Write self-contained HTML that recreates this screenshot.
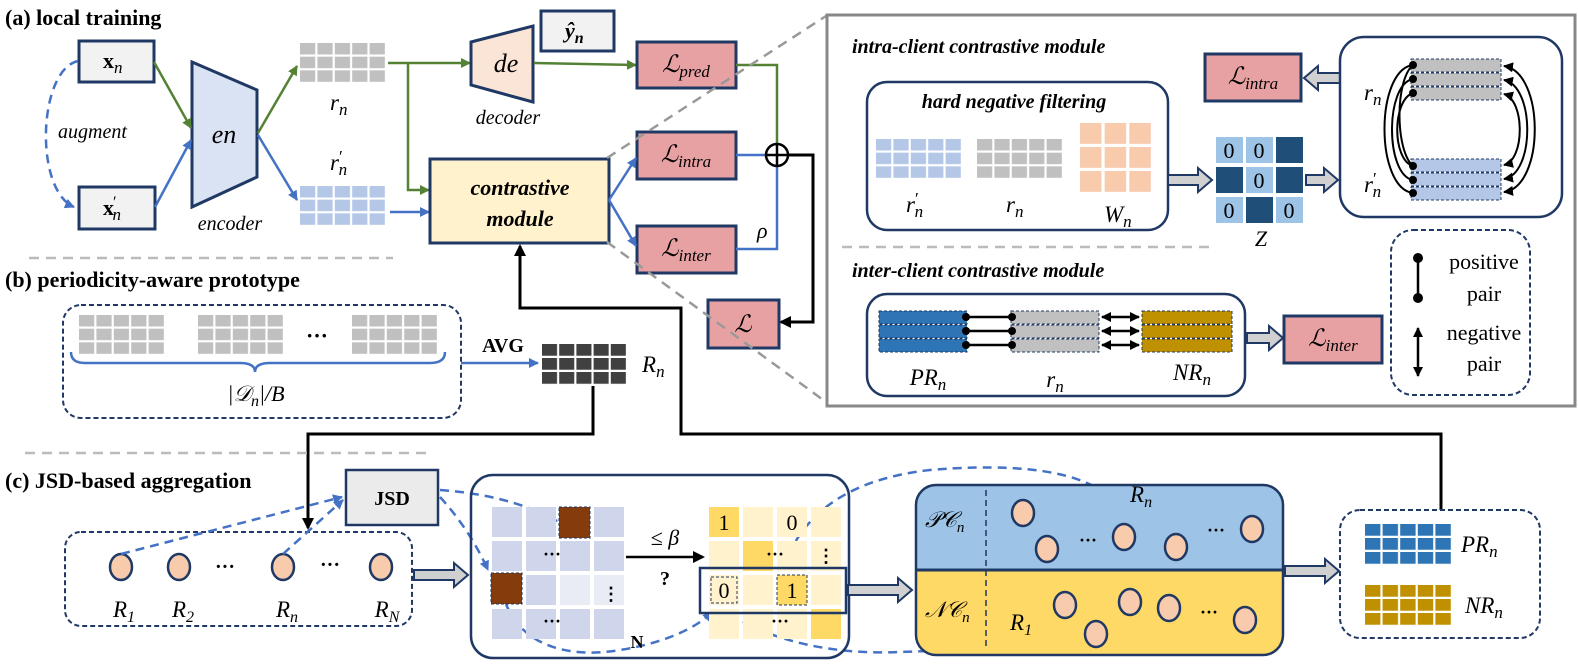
<!DOCTYPE html>
<html><head><meta charset="utf-8"><style>
html,body{margin:0;padding:0;background:#fff}
svg{display:block}
text{font-family:"Liberation Serif",serif}
.b{font-weight:bold}
.i{font-style:italic}
</style></head><body>
<svg width="1579" height="664" viewBox="0 0 1579 664" xmlns="http://www.w3.org/2000/svg">
<defs>
<pattern id="pg" patternUnits="objectBoundingBox" width="0.2" height="0.3334" patternContentUnits="objectBoundingBox"><rect width="0.175" height="0.28" fill="#c0c0c0"/></pattern>
<pattern id="plb" patternUnits="objectBoundingBox" width="0.2" height="0.3334" patternContentUnits="objectBoundingBox"><rect width="0.175" height="0.28" fill="#b4c7e7"/></pattern>
<pattern id="pdk" patternUnits="objectBoundingBox" width="0.2" height="0.3334" patternContentUnits="objectBoundingBox"><rect width="0.175" height="0.28" fill="#404040"/></pattern>
<pattern id="pbl" patternUnits="objectBoundingBox" width="0.2" height="0.3334" patternContentUnits="objectBoundingBox"><rect width="0.175" height="0.28" fill="#2e75b6"/></pattern>
<pattern id="pgo" patternUnits="objectBoundingBox" width="0.2" height="0.3334" patternContentUnits="objectBoundingBox"><rect width="0.175" height="0.28" fill="#bf9000"/></pattern>
<pattern id="ppe" patternUnits="objectBoundingBox" width="0.3334" height="0.3334" patternContentUnits="objectBoundingBox"><rect width="0.29" height="0.29" fill="#f8cbad"/></pattern>
<marker id="ag" markerWidth="10" markerHeight="10" refX="9" refY="5" orient="auto" markerUnits="userSpaceOnUse"><path d="M0,0 L10,5 L0,10 z" fill="#548235"/></marker>
<marker id="ab" markerWidth="10" markerHeight="10" refX="9" refY="5" orient="auto" markerUnits="userSpaceOnUse"><path d="M0,0 L10,5 L0,10 z" fill="#4472c4"/></marker>
<marker id="ak2" markerWidth="12" markerHeight="12" refX="10" refY="6" orient="auto" markerUnits="userSpaceOnUse"><path d="M0,0 L12,6 L0,12 z" fill="#000"/></marker>
<marker id="ah" markerWidth="10" markerHeight="10" refX="9" refY="5" orient="auto-start-reverse" markerUnits="userSpaceOnUse"><path d="M0,0 L10,5 L0,10 z" fill="#000"/></marker>
</defs>

<!-- ===== (a) local training ===== -->
<text x="5" y="25" font-size="22" class="b">(a) local training</text>
<rect x="79" y="41" width="75" height="41" fill="#f2f2f2" stroke="#1f3864" stroke-width="3"/>
<text x="103" y="68" font-size="22" class="b">x<tspan font-weight="normal" font-style="italic" font-size="17" dy="5">n</tspan></text>
<rect x="79" y="187" width="76" height="42" fill="#f2f2f2" stroke="#1f3864" stroke-width="3"/>
<text x="103" y="215" font-size="22" class="b">x<tspan font-weight="normal" font-size="16" dx="-1" dy="-8">′</tspan><tspan font-weight="normal" font-style="italic" font-size="17" dx="-4" dy="13">n</tspan></text>
<path d="M78,61 C38,70 34,190 74,207" fill="none" stroke="#4472c4" stroke-width="2.5" stroke-dasharray="9,6" marker-end="url(#ab)"/>
<text x="58" y="138" font-size="20" class="i">augment</text>
<polygon points="192,62 257,90 257,177 192,207" fill="#dae3f3" stroke="#1f3864" stroke-width="3"/>
<text x="224" y="143" font-size="26" class="i" text-anchor="middle">en</text>
<text x="230" y="230" font-size="20" class="i" text-anchor="middle">encoder</text>
<line x1="154" y1="62" x2="191" y2="128" stroke="#548235" stroke-width="2.5" marker-end="url(#ag)"/>
<line x1="155" y1="207" x2="191" y2="140" stroke="#4472c4" stroke-width="2.5" marker-end="url(#ab)"/>
<line x1="258" y1="133" x2="297" y2="66" stroke="#548235" stroke-width="2.5" marker-end="url(#ag)"/>
<line x1="258" y1="135" x2="297" y2="200" stroke="#4472c4" stroke-width="2.5" marker-end="url(#ab)"/>
<rect x="300" y="43" width="87" height="41" fill="url(#pg)"/>
<rect x="300" y="186" width="87" height="41" fill="url(#plb)"/>
<text x="330" y="110" font-size="23" class="i">r<tspan font-size="17" dy="5">n</tspan></text>
<text x="330" y="170" font-size="23" class="i">r<tspan font-size="17" dy="-8" font-style="normal">′</tspan><tspan font-size="17" dx="-4" dy="13">n</tspan></text>
<polyline points="388,63 470,63" fill="none" stroke="#548235" stroke-width="2.5" marker-end="url(#ag)"/>
<polyline points="408,63 408,190 429,190" fill="none" stroke="#548235" stroke-width="2.5" marker-end="url(#ag)"/>
<line x1="390" y1="212" x2="429" y2="212" stroke="#4472c4" stroke-width="2.5" marker-end="url(#ab)"/>
<polygon points="471,42 533,26 533,102 471,85" fill="#fbe5d6" stroke="#1f3864" stroke-width="3"/>
<text x="506" y="72" font-size="26" class="i" text-anchor="middle">de</text>
<text x="508" y="124" font-size="20" class="i" text-anchor="middle">decoder</text>
<rect x="541" y="11" width="73" height="40" fill="#f2f2f2" stroke="#1f3864" stroke-width="3"/>
<text x="565" y="38" font-size="22" class="b i">ŷ<tspan font-size="16" dy="5">n</tspan></text>
<line x1="534" y1="63" x2="636" y2="65" stroke="#548235" stroke-width="2.5" marker-end="url(#ag)"/>
<rect x="637" y="42" width="99" height="46" fill="#e8a1a3" stroke="#1f3864" stroke-width="3"/>
<text x="686" y="72" font-size="24" class="i" text-anchor="middle">ℒ<tspan font-size="17" dy="5">pred</tspan></text>
<rect x="637" y="132" width="99" height="47" fill="#e8a1a3" stroke="#1f3864" stroke-width="3"/>
<text x="686" y="162" font-size="24" class="i" text-anchor="middle">ℒ<tspan font-size="17" dy="5">intra</tspan></text>
<rect x="637" y="226" width="99" height="47" fill="#e8a1a3" stroke="#1f3864" stroke-width="3"/>
<text x="686" y="256" font-size="24" class="i" text-anchor="middle">ℒ<tspan font-size="17" dy="5">inter</tspan></text>
<rect x="708" y="300" width="71" height="48" fill="#e8a1a3" stroke="#1f3864" stroke-width="3"/>
<text x="743" y="332" font-size="24" class="i" text-anchor="middle">ℒ</text>
<rect x="430" y="159" width="179" height="84" fill="#fff2cc" stroke="#1f3864" stroke-width="3"/>
<text x="520" y="195" font-size="22" class="b i" text-anchor="middle">contrastive</text>
<text x="520" y="226" font-size="22" class="b i" text-anchor="middle">module</text>
<line x1="609" y1="200" x2="636" y2="158" stroke="#4472c4" stroke-width="2.5" marker-end="url(#ab)"/>
<line x1="609" y1="200" x2="636" y2="246" stroke="#4472c4" stroke-width="2.5" marker-end="url(#ab)"/>
<polyline points="736,65 777,65 777,143" fill="none" stroke="#548235" stroke-width="2.5"/>
<line x1="736" y1="155" x2="765" y2="155" stroke="#4472c4" stroke-width="2.5"/>
<polyline points="736,249 777,249 777,167" fill="none" stroke="#4472c4" stroke-width="2.5"/>
<circle cx="777" cy="155" r="11" fill="#fff" stroke="#000" stroke-width="2.5"/>
<line x1="766" y1="155" x2="788" y2="155" stroke="#000" stroke-width="2.5"/>
<line x1="777" y1="144" x2="777" y2="166" stroke="#000" stroke-width="2.5"/>
<text x="757" y="238" font-size="22" class="i">ρ</text>
<polyline points="788,155 813,155 813,322 781,322" fill="none" stroke="#000" stroke-width="3" marker-end="url(#ak2)"/>
<line x1="607" y1="158" x2="826" y2="16" stroke="#999" stroke-width="2.5" stroke-dasharray="10,7"/>
<line x1="607" y1="242" x2="826" y2="402" stroke="#999" stroke-width="2.5" stroke-dasharray="10,7"/>

<!-- ===== big panel ===== -->
<rect x="827" y="15" width="748" height="391" fill="#fff" stroke="#888" stroke-width="3"/>
<text x="852" y="53" font-size="20" class="b i">intra-client contrastive module</text>
<rect x="867" y="82" width="301" height="148" rx="20" fill="#fff" stroke="#1f3864" stroke-width="2.5"/>
<text x="1014" y="108" font-size="20" class="b i" text-anchor="middle">hard negative filtering</text>
<rect x="876" y="139" width="87" height="41" fill="url(#plb)"/>
<rect x="977" y="139" width="87" height="41" fill="url(#pg)"/>
<rect x="1080" y="123" width="74" height="72" fill="url(#ppe)"/>
<text x="906" y="212" font-size="23" class="i">r<tspan font-size="17" dy="-8" font-style="normal">′</tspan><tspan font-size="17" dx="-4" dy="13">n</tspan></text>
<text x="1006" y="212" font-size="23" class="i">r<tspan font-size="17" dy="5">n</tspan></text>
<text x="1104" y="222" font-size="23" class="i">W<tspan font-size="17" dy="5">n</tspan></text>
<path d="M1168,175 h30 v-7 l14,12 l-14,12 v-7 h-30 z" fill="#d0d0d0" stroke="#1f3864" stroke-width="2"/>
<path d="M1306,175 h18 v-7 l14,12 l-14,12 v-7 h-18 z" fill="#d0d0d0" stroke="#1f3864" stroke-width="2"/>
<path d="M1340,73 h-22 v-7 l-14,12 l14,12 v-7 h22 z" fill="#d0d0d0" stroke="#1f3864" stroke-width="2"/>
<g font-size="22" text-anchor="middle">
<rect x="1216" y="137" width="27" height="26" fill="#9dc3e6"/><text x="1229" y="158">0</text>
<rect x="1246" y="137" width="27" height="26" fill="#9dc3e6"/><text x="1259" y="158">0</text>
<rect x="1276" y="137" width="27" height="26" fill="#1f4e79"/>
<rect x="1216" y="167" width="27" height="26" fill="#1f4e79"/>
<rect x="1246" y="167" width="27" height="26" fill="#9dc3e6"/><text x="1259" y="188">0</text>
<rect x="1276" y="167" width="27" height="26" fill="#1f4e79"/>
<rect x="1216" y="197" width="27" height="26" fill="#9dc3e6"/><text x="1229" y="218">0</text>
<rect x="1246" y="197" width="27" height="26" fill="#1f4e79"/>
<rect x="1276" y="197" width="27" height="26" fill="#9dc3e6"/><text x="1289" y="218">0</text>
</g>
<text x="1261" y="246" font-size="22" class="i" text-anchor="middle">Z</text>
<rect x="1205" y="54" width="96" height="47" fill="#e8a1a3" stroke="#1f3864" stroke-width="3"/>
<text x="1253" y="84" font-size="24" class="i" text-anchor="middle">ℒ<tspan font-size="17" dy="5">intra</tspan></text>
<rect x="1340" y="37" width="222" height="180" rx="24" fill="#fff" stroke="#1f3864" stroke-width="2.5"/>
<g stroke="#1f3864" stroke-width="1" stroke-dasharray="3,2">
<rect x="1411" y="59" width="90" height="13" fill="#c0c0c0"/>
<rect x="1411" y="73" width="90" height="13" fill="#c0c0c0"/>
<rect x="1411" y="87" width="90" height="13" fill="#c0c0c0"/>
<rect x="1411" y="159" width="90" height="13" fill="#b4c7e7"/>
<rect x="1411" y="173" width="90" height="13" fill="#b4c7e7"/>
<rect x="1411" y="187" width="90" height="13" fill="#b4c7e7"/>
</g>
<text x="1364" y="100" font-size="23" class="i">r<tspan font-size="17" dy="5">n</tspan></text>
<text x="1364" y="192" font-size="23" class="i">r<tspan font-size="17" dy="-8" font-style="normal">′</tspan><tspan font-size="17" dx="-4" dy="13">n</tspan></text>
<g fill="none" stroke="#000" stroke-width="2">
<path d="M1413,65 C1375,70 1375,188 1413,193"/>
<path d="M1413,79 C1385,84 1385,175 1413,180"/>
<path d="M1413,93 C1392,100 1392,160 1413,166"/>
<path d="M1413,65 C1395,80 1395,150 1413,166"/>
<path d="M1504,66 C1545,72 1545,187 1504,192" marker-start="url(#ah)" marker-end="url(#ah)"/>
<path d="M1504,80 C1535,86 1535,174 1504,179" marker-start="url(#ah)" marker-end="url(#ah)"/>
<path d="M1504,94 C1525,100 1525,160 1504,165" marker-start="url(#ah)" marker-end="url(#ah)"/>
</g>
<g fill="#000"><circle cx="1413" cy="65" r="4"/><circle cx="1413" cy="79" r="4"/><circle cx="1413" cy="93" r="4"/><circle cx="1413" cy="166" r="4"/><circle cx="1413" cy="180" r="4"/><circle cx="1413" cy="193" r="4"/></g>
<line x1="842" y1="247" x2="1212" y2="247" stroke="#bbb" stroke-width="2.5" stroke-dasharray="10,7"/>
<text x="852" y="277" font-size="20" class="b i">inter-client contrastive module</text>
<rect x="867" y="294" width="378" height="102" rx="20" fill="#fff" stroke="#1f3864" stroke-width="2.5"/>
<g stroke="#1f3864" stroke-width="1" stroke-dasharray="3,2">
<rect x="879" y="311" width="88" height="13" fill="#2e75b6"/><rect x="879" y="325" width="88" height="13" fill="#2e75b6"/><rect x="879" y="339" width="88" height="13" fill="#2e75b6"/>
<rect x="1011" y="311" width="88" height="13" fill="#c0c0c0"/><rect x="1011" y="325" width="88" height="13" fill="#c0c0c0"/><rect x="1011" y="339" width="88" height="13" fill="#c0c0c0"/>
<rect x="1142" y="311" width="90" height="13" fill="#bf9000"/><rect x="1142" y="325" width="90" height="13" fill="#bf9000"/><rect x="1142" y="339" width="90" height="13" fill="#bf9000"/>
</g>
<g stroke="#000" stroke-width="2.5">
<line x1="966" y1="317" x2="1012" y2="317"/><line x1="966" y1="331" x2="1012" y2="331"/><line x1="966" y1="345" x2="1012" y2="345"/>
<line x1="1102" y1="317" x2="1139" y2="317" marker-start="url(#ah)" marker-end="url(#ah)"/>
<line x1="1102" y1="331" x2="1139" y2="331" marker-start="url(#ah)" marker-end="url(#ah)"/>
<line x1="1102" y1="345" x2="1139" y2="345" marker-start="url(#ah)" marker-end="url(#ah)"/>
</g>
<g fill="#000"><circle cx="966" cy="317" r="4"/><circle cx="966" cy="331" r="4"/><circle cx="966" cy="345" r="4"/><circle cx="1012" cy="317" r="4"/><circle cx="1012" cy="331" r="4"/><circle cx="1012" cy="345" r="4"/></g>
<text x="928" y="385" font-size="23" class="i" text-anchor="middle">PR<tspan font-size="17" dy="5">n</tspan></text>
<text x="1055" y="387" font-size="23" class="i" text-anchor="middle">r<tspan font-size="17" dy="5">n</tspan></text>
<text x="1192" y="380" font-size="23" class="i" text-anchor="middle">NR<tspan font-size="17" dy="5">n</tspan></text>
<path d="M1247,333 h22 v-7 l14,12 l-14,12 v-7 h-22 z" fill="#d0d0d0" stroke="#1f3864" stroke-width="2"/>
<rect x="1284" y="316" width="98" height="47" fill="#e8a1a3" stroke="#1f3864" stroke-width="3"/>
<text x="1333" y="346" font-size="24" class="i" text-anchor="middle">ℒ<tspan font-size="17" dy="5">inter</tspan></text>
<rect x="1391" y="230" width="139" height="165" rx="22" fill="#fff" stroke="#1f3864" stroke-width="2" stroke-dasharray="5,3"/>
<line x1="1418" y1="258" x2="1418" y2="298" stroke="#000" stroke-width="2.5"/>
<circle cx="1418" cy="258" r="5"/><circle cx="1418" cy="298" r="5"/>
<line x1="1418" y1="328" x2="1418" y2="376" stroke="#000" stroke-width="2.5" marker-start="url(#ah)" marker-end="url(#ah)"/>
<g font-size="22" text-anchor="middle"><text x="1484" y="269">positive</text><text x="1484" y="301">pair</text><text x="1484" y="340">negative</text><text x="1484" y="371">pair</text></g>

<!-- ===== (b) ===== -->
<line x1="29" y1="258" x2="393" y2="258" stroke="#bbb" stroke-width="2.5" stroke-dasharray="10,7"/>
<text x="5" y="287" font-size="22" class="b">(b) periodicity-aware prototype</text>
<rect x="63" y="305" width="398" height="113" rx="18" fill="#fff" stroke="#1f3864" stroke-width="2" stroke-dasharray="5,3"/>
<rect x="79" y="315" width="87" height="41" fill="url(#pg)"/>
<rect x="198" y="315" width="87" height="41" fill="url(#pg)"/>
<rect x="352" y="315" width="87" height="41" fill="url(#pg)"/>
<text x="317" y="343" font-size="22" class="b" text-anchor="middle">···</text>
<path d="M71,352 Q71,363 85,363 L240,363 Q255,363 255,372 Q255,363 270,363 L430,363 Q445,363 445,352" fill="none" stroke="#4472c4" stroke-width="2.5"/>
<text x="256" y="401" font-size="22" class="i" text-anchor="middle">|𝒟<tspan font-size="16" dy="5">n</tspan><tspan dy="-5">|/B</tspan></text>
<line x1="461" y1="363" x2="538" y2="363" stroke="#4472c4" stroke-width="2.5" marker-end="url(#ab)"/>
<text x="503" y="352" font-size="20" class="b" text-anchor="middle">AVG</text>
<rect x="542" y="344" width="86" height="42" fill="url(#pdk)"/>
<text x="642" y="372" font-size="23" class="i">R<tspan font-size="17" dy="5">n</tspan></text>

<polyline points="593,386 593,434 308,434 308,528" fill="none" stroke="#000" stroke-width="3" marker-end="url(#ak2)"/>
<polyline points="1441,510 1441,434 681,434 681,308 520,308 520,246" fill="none" stroke="#000" stroke-width="3" marker-end="url(#ak2)"/>

<!-- ===== (c) ===== -->
<line x1="25" y1="453" x2="426" y2="453" stroke="#bbb" stroke-width="2.5" stroke-dasharray="10,7"/>
<text x="5" y="488" font-size="22" class="b">(c) JSD-based aggregation</text>
<rect x="346" y="470" width="92" height="55" fill="#ebebeb" stroke="#1f3864" stroke-width="2.5"/>
<text x="392" y="505" font-size="20" class="b" text-anchor="middle">JSD</text>
<rect x="65" y="532" width="347" height="94" rx="16" fill="#fff" stroke="#1f3864" stroke-width="2" stroke-dasharray="5,3"/>
<g fill="#f8cbad" stroke="#1f3864" stroke-width="2.5">
<ellipse cx="121" cy="567" rx="11" ry="13"/><ellipse cx="179" cy="567" rx="11" ry="13"/><ellipse cx="283" cy="567" rx="11" ry="13"/><ellipse cx="381" cy="567" rx="11" ry="13"/>
</g>
<g font-size="20" class="b" text-anchor="middle"><text x="225" y="573">···</text><text x="330" y="571">···</text></g>
<g font-size="23" class="i" text-anchor="middle">
<text x="124" y="617">R<tspan font-size="16" dy="5">1</tspan></text>
<text x="183" y="617">R<tspan font-size="16" dy="5">2</tspan></text>
<text x="287" y="617">R<tspan font-size="16" dy="5">n</tspan></text>
<text x="387" y="617">R<tspan font-size="16" dy="5">N</tspan></text>
</g>
<g fill="none" stroke="#4472c4" stroke-width="2.5" stroke-dasharray="9,6">
<path d="M121,554 L342,497" marker-end="url(#ab)"/>
<path d="M283,554 L343,500" marker-end="url(#ab)"/>
<path d="M440,490 Q510,495 557,521" marker-end="url(#ab)"/>
<path d="M440,497 Q470,530 488,570" marker-end="url(#ab)"/>
<path d="M506,604 C520,640 560,660 620,650 C670,642 700,625 712,612" marker-end="url(#ab)"/>
<path d="M783,568 C800,520 840,480 930,470 C1050,460 1110,480 1124,518" marker-end="url(#ab)"/>
<path d="M730,614 C770,640 830,655 900,652 C980,650 1040,640 1062,618" marker-end="url(#ab)"/>
</g>
<path d="M414,570 h40 v-7 l14,12 l-14,12 v-7 h-40 z" fill="#d0d0d0" stroke="#1f3864" stroke-width="2"/>
<rect x="471" y="475" width="378" height="183" rx="22" fill="none" stroke="#1f3864" stroke-width="2.5"/>
<g fill="#cfd5ea">
<rect x="492" y="507" width="30" height="30"/><rect x="526" y="507" width="30" height="30"/><rect x="594" y="507" width="30" height="30"/>
<rect x="492" y="541" width="30" height="30"/><rect x="526" y="541" width="30" height="30"/><rect x="560" y="541" width="30" height="30"/><rect x="594" y="541" width="30" height="30"/>
<rect x="526" y="575" width="30" height="30"/><rect x="594" y="575" width="30" height="30" fill="#e9ebf5"/>
<rect x="492" y="609" width="30" height="30"/><rect x="526" y="609" width="30" height="30"/><rect x="560" y="609" width="30" height="30"/><rect x="594" y="609" width="30" height="30"/>
</g>
<rect x="560" y="575" width="30" height="30" fill="#e9ebf5"/>
<rect x="559" y="507" width="31" height="31" fill="#843c0c" stroke="#1f3864" stroke-dasharray="3,2"/>
<rect x="491" y="573" width="31" height="31" fill="#843c0c" stroke="#1f3864" stroke-dasharray="3,2"/>
<g font-size="18" class="b" text-anchor="middle"><text x="552" y="560">···</text><text x="552" y="627">···</text><text x="611" y="600">⋮</text></g>
<text x="665" y="545" font-size="22" text-anchor="middle">≤ <tspan class="i">β</tspan></text>
<line x1="626" y1="557" x2="703" y2="557" stroke="#000" stroke-width="2.5" marker-end="url(#ak2)"/>
<text x="665" y="585" font-size="20" class="b" text-anchor="middle">?</text>
<text x="637" y="648" font-size="18" class="b" text-anchor="middle">N</text>
<g fill="#fff2cc">
<rect x="743" y="507" width="30" height="30"/><rect x="777" y="507" width="30" height="30"/><rect x="811" y="507" width="30" height="30"/>
<rect x="709" y="541" width="30" height="30"/><rect x="777" y="541" width="30" height="30"/><rect x="811" y="541" width="30" height="30"/>
<rect x="709" y="575" width="30" height="30"/><rect x="743" y="575" width="30" height="30"/><rect x="811" y="575" width="30" height="30"/>
<rect x="709" y="609" width="30" height="30"/><rect x="743" y="609" width="30" height="30"/><rect x="777" y="609" width="30" height="30"/>
</g>
<g fill="#ffd966"><rect x="709" y="507" width="30" height="30"/><rect x="743" y="541" width="30" height="30"/><rect x="811" y="609" width="30" height="30"/></g>
<rect x="711" y="577" width="26" height="26" fill="#fff2cc" stroke="#1f3864" stroke-dasharray="3,2"/>
<rect x="777" y="575" width="30" height="30" fill="#ffd966" stroke="#1f3864" stroke-dasharray="3,2"/>
<g font-size="22" text-anchor="middle"><text x="724" y="530">1</text><text x="792" y="530">0</text><text x="724" y="598">0</text><text x="792" y="598">1</text></g>
<g font-size="18" class="b" text-anchor="middle"><text x="775" y="560">···</text><text x="780" y="627">···</text><text x="826" y="562">⋮</text></g>
<rect x="700" y="568" width="146" height="45" fill="none" stroke="#1f3864" stroke-width="2.5"/>
<path d="M848,585 h50 v-7 l14,12 l-14,12 v-7 h-50 z" fill="#d0d0d0" stroke="#1f3864" stroke-width="2"/>
<path d="M936,485 H1263 Q1283,485 1283,505 V570 H916 V505 Q916,485 936,485 z" fill="#9dc3e6"/>
<path d="M916,570 H1283 V635 Q1283,655 1263,655 H936 Q916,655 916,635 z" fill="#ffd966"/>
<rect x="916" y="485" width="367" height="170" rx="20" fill="none" stroke="#1f3864" stroke-width="2.5"/>
<line x1="916" y1="570" x2="1283" y2="570" stroke="#1f3864" stroke-width="3"/>
<line x1="986" y1="490" x2="986" y2="650" stroke="#1f3864" stroke-width="1.5" stroke-dasharray="6,4"/>
<text x="925" y="527" font-size="22" class="i">𝒫𝒞<tspan font-size="15" dy="5">n</tspan></text>
<text x="925" y="617" font-size="22" class="i">𝒩𝒞<tspan font-size="15" dy="5">n</tspan></text>
<g fill="#f8cbad" stroke="#1f3864" stroke-width="2.5">
<ellipse cx="1023" cy="513" rx="11" ry="13"/><ellipse cx="1047" cy="549" rx="11" ry="13"/><ellipse cx="1124" cy="537" rx="11" ry="13"/><ellipse cx="1176" cy="547" rx="11" ry="13"/><ellipse cx="1252" cy="529" rx="11" ry="13"/>
<ellipse cx="1065" cy="605" rx="11" ry="13"/><ellipse cx="1130" cy="602" rx="11" ry="13"/><ellipse cx="1096" cy="634" rx="11" ry="13"/><ellipse cx="1169" cy="608" rx="11" ry="13"/><ellipse cx="1245" cy="620" rx="11" ry="13"/>
</g>
<g font-size="18" class="b" text-anchor="middle"><text x="1088" y="546">···</text><text x="1216" y="536">···</text><text x="1209" y="618">···</text></g>
<text x="1130" y="502" font-size="23" class="i">R<tspan font-size="16" dy="5">n</tspan></text>
<text x="1010" y="630" font-size="23" class="i">R<tspan font-size="16" dy="5">1</tspan></text>
<path d="M1285,566 h40 v-7 l14,12 l-14,12 v-7 h-40 z" fill="#d0d0d0" stroke="#1f3864" stroke-width="2"/>
<rect x="1340" y="510" width="200" height="128" rx="20" fill="#fff" stroke="#1f3864" stroke-width="2" stroke-dasharray="5,3"/>
<rect x="1365" y="524" width="88" height="42" fill="url(#pbl)"/>
<rect x="1365" y="585" width="88" height="42" fill="url(#pgo)"/>
<text x="1461" y="552" font-size="23" class="i">PR<tspan font-size="17" dy="5">n</tspan></text>
<text x="1465" y="613" font-size="23" class="i">NR<tspan font-size="17" dy="5">n</tspan></text>
</svg>
</body></html>
